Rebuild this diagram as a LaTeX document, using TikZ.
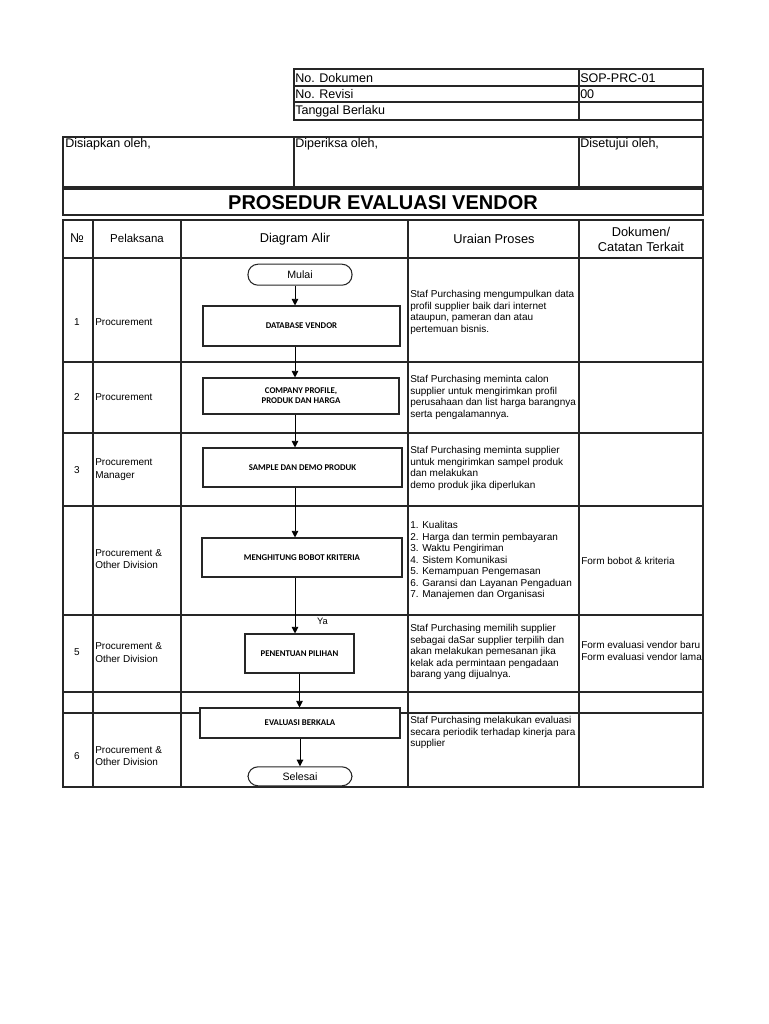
\documentclass[tikz,border=0pt]{standalone}
\usepackage{fontspec}
\setmainfont{Liberation Sans}
\newfontfamily\kotakfont{Carlito}
\usetikzlibrary{arrows.meta}

\begin{document}
\begin{tikzpicture}[
        x=0.75pt, y=-0.75pt,
        % Stile per le linee della tabella
        griglia/.style={draw=black!85, line width=0.9pt},
        % Stile per i box di processo (rettangoli)
        proses/.style={rectangle, draw=black!85, line width=0.8pt, fill=white, align=center, inner sep=0pt,
            font=\kotakfont\bfseries\fontsize{6.6}{7.6}\selectfont},
        % Stile per inizio e fine (terminali arrotondati)
        terminal/.style={rectangle, rounded corners=7.5pt, draw=black!85, line width=0.8pt, fill=white,
            minimum width=78pt, inner sep=0pt, font=\fontsize{8}{9}\selectfont},
        % Stile per le frecce del diagramma
        freccia/.style={draw=black, line width=0.7pt, -{Triangle[length=5pt,width=5pt]}},
        % Stili per i testi
        intest/.style={anchor=west, inner sep=0pt, font=\fontsize{9.4}{11}\selectfont},
        testa/.style={align=center, inner sep=0pt, font=\fontsize{9.6}{11.4}\selectfont},
        isi/.style={align=left, inner sep=0pt, font=\fontsize{7.5}{8.6}\selectfont}
    ]

        \useasboundingbox[fill=white] (0,0) rectangle (768,1024);

        % --- INTESTAZIONE DEL DOCUMENTO ---
        \draw[griglia] (294,69) rectangle (703,120);
        \draw[griglia] (294,86) -- (703,86);
        \draw[griglia] (294,102) -- (703,102);
        \draw[griglia] (579,69) -- (579,120);
        \draw[griglia] (703,120) -- (703,137);

        \node[intest] (dok)  at (295,77.7) {No. Dokumen};
        \node[intest] (rev)  at (295,94)   {No. Revisi};
        \node[intest] (tgl)  at (295,111)  {Tanggal Berlaku};
        \node[intest] (dokV) at (580,77.7) {SOP-PRC-01};
        \node[intest] (revV) at (580,94)   {00};

        % --- FIRME ---
        \draw[griglia] (63,137) rectangle (703,187);
        \draw[griglia] (294,137) -- (294,187);
        \draw[griglia] (579,137) -- (579,187);

        \node[intest] (siap)    at (65,144)  {Disiapkan oleh,};
        \node[intest] (periksa) at (295,144) {Diperiksa oleh,};
        \node[intest] (setuju)  at (580,144) {Disetujui oleh,};

        % --- TITOLO ---
        \draw[griglia] (63,189) rectangle (703,215);
        \node[font=\bfseries\fontsize{15}{17}\selectfont, inner sep=0pt] (judul) at (383,203) {PROSEDUR EVALUASI VENDOR};

        % --- TABELLA ---
        \draw[griglia] (63,220) rectangle (703,787);
        \foreach \yy in {258,362,433,506,615,692,713}
            \draw[griglia] (63,\yy) -- (703,\yy);
        \foreach \xx in {93,181,408,579}
            \draw[griglia] (\xx,220) -- (\xx,787);

        \node[testa] (hNo)  at (77,238.5)  {№};
        \node[testa, font=\fontsize{8.6}{10}\selectfont] (hPel) at (137,238.5) {Pelaksana};
        \node[testa] (hDia) at (295,239) {Diagram Alir};
        \node[testa] (hUra) at (494,239) {Uraian Proses};
        \node[testa] (hDok) at (641,239.5) {Dokumen/\\Catatan Terkait};

        % Numeri delle righe
        \node[isi] (no1) at (77,322)   {1};
        \node[isi] (no2) at (77,396.7) {2};
        \node[isi] (no3) at (77,470)   {3};
        \node[isi] (no5) at (77,652)   {5};
        \node[isi] (no6) at (77,756)   {6};

        % Pelaksana
        \node[isi, anchor=west] (pel1) at (95,322)   {Procurement};
        \node[isi, anchor=west] (pel2) at (95,396.7) {Procurement};
        \node[isi, anchor=west, font=\fontsize{7.5}{9.4}\selectfont] (pel3) at (95,469.5) {Procurement\\Manager};
        \node[isi, anchor=west, font=\fontsize{7.5}{9.4}\selectfont] (pel4) at (95,559)   {Procurement \&\\Other Division};
        \node[isi, anchor=west, font=\fontsize{7.5}{9.4}\selectfont] (pel5) at (95,652.5) {Procurement \&\\Other Division};
        \node[isi, anchor=west, font=\fontsize{7.5}{9.4}\selectfont] (pel6) at (95,756)   {Procurement \&\\Other Division};

        % Uraian proses
        \node[isi, anchor=north west] (ur1) at (410,290.3) {Staf Purchasing mengumpulkan data\\profil supplier baik dari internet\\ataupun, pameran dan atau\\pertemuan bisnis.};
        \node[isi, anchor=north west] (ur2) at (410,375.3) {Staf Purchasing meminta calon\\supplier untuk mengirimkan profil\\perusahaan dan list harga barangnya\\serta pengalamannya.};
        \node[isi, anchor=north west] (ur3) at (410,446.3) {Staf Purchasing meminta supplier\\untuk mengirimkan sampel produk\\dan melakukan\\demo produk jika diperlukan};
        \node[isi, anchor=north west] (ur4) at (410,521.3) {1. Kualitas\\2. Harga dan termin pembayaran\\3. Waktu Pengiriman\\4. Sistem Komunikasi\\5. Kemampuan Pengemasan\\6. Garansi dan Layanan Pengaduan\\7. Manajemen dan Organisasi};
        \node[isi, anchor=north west] (ur5) at (410,624.3) {Staf Purchasing memilih supplier\\sebagai daSar supplier terpilih dan\\akan melakukan pemesanan jika\\kelak ada permintaan pengadaan\\barang yang dijualnya.};
        \node[isi, anchor=north west] (ur6) at (410,716.3) {Staf Purchasing melakukan evaluasi\\secara periodik terhadap kinerja para\\supplier};

        % Dokumen terkait
        \node[isi, anchor=west] (dk4) at (581,560.7) {Form bobot \& kriteria};
        \node[isi, anchor=west, font=\fontsize{7.5}{9.6}\selectfont] (dk5) at (581,651) {Form evaluasi vendor baru\\Form evaluasi vendor lama};

        % --- DIAGRAMMA DI FLUSSO ---
        \coordinate (poros) at (295,0);

        \node[terminal, minimum height=15.75pt] (mulai) at (300,274.7) {Mulai};
        \node[proses, minimum width=147.75pt, minimum height=30pt]    (db) at (301.5,326)   {DATABASE VENDOR};
        \node[proses, minimum width=147pt, minimum height=27pt]       (cp) at (301,396)     {COMPANY PROFILE,\\PRODUK DAN HARGA};
        \node[proses, minimum width=149.25pt, minimum height=29.25pt] (sp) at (302.5,467.5) {SAMPLE DAN DEMO PRODUK};
        \node[proses, minimum width=150pt, minimum height=29.25pt]    (mh) at (302,557.5)   {MENGHITUNG BOBOT KRITERIA};
        \node[proses, minimum width=81.75pt, minimum height=29.25pt]  (pp) at (299.5,653.5) {PENENTUAN PILIHAN};
        \node[proses, minimum width=150pt, minimum height=22.5pt]     (eb) at (300,723)     {EVALUASI BERKALA};
        \node[terminal, minimum height=14.25pt] (selesai) at (300,776.3) {Selesai};

        \node[isi, font=\fontsize{7}{8}\selectfont] (ya) at (322.5,621.5) {Ya};

        % Frecce
        \draw[freccia] (mulai.south -| poros) -- (db.north -| poros);
        \draw[freccia] (db.south -| poros) -- (cp.north -| poros);
        \draw[freccia] (cp.south -| poros) -- (sp.north -| poros);
        \draw[freccia] (sp.south -| poros) -- (mh.north -| poros);
        \draw[freccia] (mh.south -| poros) -- (pp.north -| poros);
        \draw[freccia] (pp.south) -- (pp.south |- eb.north);
        \draw[freccia] (selesai.north |- eb.south) -- (selesai.north);

    \end{tikzpicture}
\end{document}
